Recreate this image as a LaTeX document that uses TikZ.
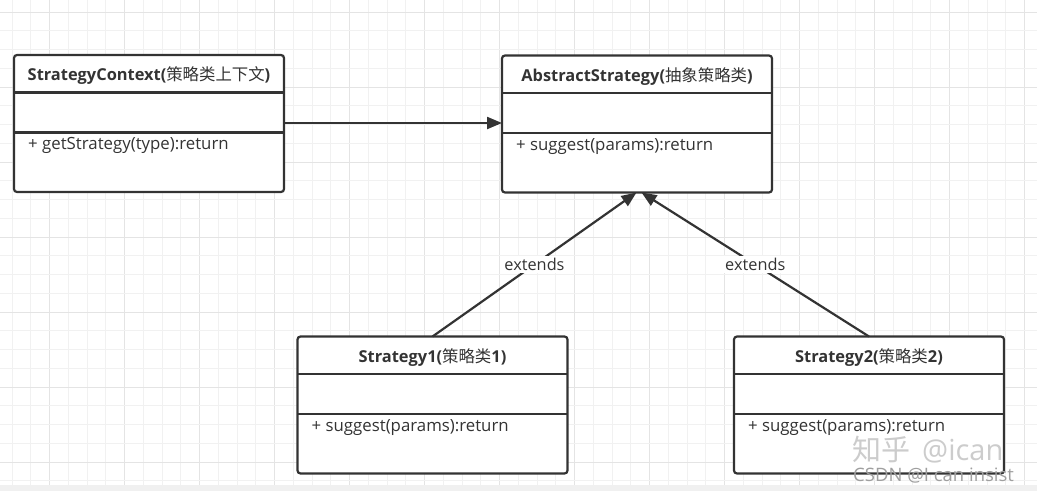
\documentclass[tikz,border=0pt]{standalone}
\usepackage{fontspec}
\setmainfont{Open Sans}
\newfontfamily\cjk{Noto Sans CJK SC}
\usetikzlibrary{arrows.meta,calc}
\definecolor{ink}{HTML}{333333}
\definecolor{gridminor}{HTML}{F1F1F1}
\definecolor{gridmajor}{HTML}{E4E4E4}
\definecolor{band}{HTML}{F0F0F0}
\tikzset{
  classbox/.style={draw=ink, line width=2.2pt, rounded corners=3pt, fill=white,
    minimum width=270pt, minimum height=137pt, inner sep=0pt, outer sep=0pt},
  divider/.style={draw=ink, line width=2.2pt},
  titletext/.style={font=\fontsize{16.4}{19}\selectfont\bfseries, text=ink, inner sep=0pt, anchor=base},
  bodytext/.style={font=\fontsize{16.8}{19}\selectfont, text=ink, inner sep=0pt, anchor=base west},
  conn/.style={draw=ink, line width=2.2pt, -{Triangle[length=15pt,width=12pt]}},
  lbl/.style={font=\fontsize{16.3}{19}\selectfont, text=ink, fill=white, inner sep=2pt}
}
\newcommand{\zh}[1]{{\cjk\mdseries #1}}
\begin{document}
\begin{tikzpicture}[x=1pt,y=-1pt]
\useasboundingbox (0,0) rectangle (1037,491);
\fill[white] (0,0) rectangle (1037,491);
% grid
\foreach \i in {0,...,54}{
  \pgfmathsetmacro{\xx}{12+18.75*\i}
  \pgfmathtruncatemacro{\m}{mod(\i,4)}
  \ifnum\m=2
    \draw[gridmajor, line width=1pt] (\xx,0) -- (\xx,485);
  \else
    \draw[gridminor, line width=1pt] (\xx,0) -- (\xx,485);
  \fi
}
\foreach \i in {0,...,25}{
  \pgfmathsetmacro{\yy}{12+18.75*\i}
  \pgfmathtruncatemacro{\m}{mod(\i,4)}
  \ifnum\m=0
    \draw[gridmajor, line width=1pt] (0,\yy) -- (1037,\yy);
  \else
    \draw[gridminor, line width=1pt] (0,\yy) -- (1037,\yy);
  \fi
}
\fill[band] (0,485) rectangle (1037,491);

% classes
\node[classbox, anchor=north west] (ctx) at (14,55) {};
\node[classbox, anchor=north west] (abs) at (502,55.5) {};
\node[classbox, anchor=north west] (s1) at (297.5,336.5) {};
\node[classbox, anchor=north west] (s2) at (734,336.5) {};

\foreach \n in {ctx,abs,s1,s2}{
  \draw[divider] ($(\n.north west)+(0,37.5)$) -- ($(\n.north east)+(0,37.5)$);
  \draw[divider] ($(\n.north west)+(0,77.5)$) -- ($(\n.north east)+(0,77.5)$);
}

\node[titletext] (ctxT) at ($(ctx.north)+(0,25.5)$) {StrategyContext(\zh{策略类上下文})};
\node[bodytext] (ctxB) at ($(ctx.north west)+(14,94.5)$) {+ getStrategy(type):return};

\node[titletext] (absT) at ($(abs.north)+(0,25.5)$) {AbstractStrategy(\zh{抽象策略类})};
\node[bodytext] (absB) at ($(abs.north west)+(14,94.5)$) {+ suggest(params):return};

\node[titletext] (s1T) at ($(s1.north)+(0,25.5)$) {Strategy1(\zh{策略类}1)};
\node[bodytext] (s1B) at ($(s1.north west)+(14,94.5)$) {+ suggest(params):return};

\node[titletext] (s2T) at ($(s2.north)+(0,25.5)$) {Strategy2(\zh{策略类}2)};
\node[bodytext] (s2B) at ($(s2.north west)+(14,94.5)$) {+ suggest(params):return};

% connectors
\coordinate (ctxOut) at ($(ctx.north east)+(0,68)$);
\coordinate (absIn) at ($(abs.north west)+(0,67.5)$);
\draw[conn] (ctxOut) -- (absIn);

\coordinate (tip1) at ($(abs.south)+(-0.5,0)$);
\coordinate (tip2) at ($(abs.south)+(4.5,0)$);
\draw[conn] (s1.north) -- node[lbl] (e1) {extends} (tip1);
\draw[conn] (s2.north) -- node[lbl] (e2) {extends} (tip2);

% watermark
\node[font=\fontsize{29}{31}\selectfont, text=gray!40, inner sep=0pt, anchor=base west] (wm1) at (852,460) {\zh{知乎}\hspace{12pt}@ican};
\node[font=\fontsize{18.5}{21}\selectfont, text=gray!75, inner sep=0pt, anchor=base west] (wm2) at (853,481.5) {CSDN @I can insist};
\end{tikzpicture}
\end{document}
